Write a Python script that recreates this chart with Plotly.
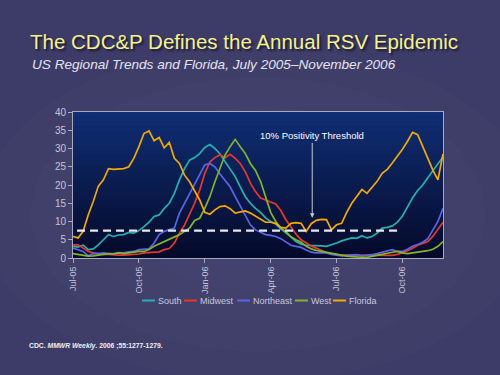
import plotly.graph_objects as go

# ---------------- data (weekly, Jul 2005 - Nov 2006) ----------------
weeks = list(range(74))
tick_weeks = [0, 13, 26, 39, 52, 65]
tick_labels = ["Jul-05", "Oct-05", "Jan-06", "Apr-06", "Jul-06", "Oct-06"]
y_ticks = [0, 5, 10, 15, 20, 25, 30, 35, 40]

south = [3.2, 3.0, 3.5, 2.3, 2.5, 3.6, 5.0, 6.4, 5.9, 6.3, 6.4, 7.0, 6.8, 7.5, 8.6, 9.8,
         11.4, 11.8, 13.6, 15.0, 17.7, 21.4, 24.5, 26.8, 27.5, 28.6, 30.3, 31.1, 30.0, 28.5,
         26.4, 24.5, 22.3, 19.5, 16.8, 15.0, 13.6, 12.5, 11.0, 10.0, 9.3, 8.0, 7.0, 5.8, 4.5,
         3.8, 3.5, 3.5, 3.4, 3.3, 3.2, 3.6, 4.1, 4.7, 5.2, 5.5, 5.4, 6.1, 5.5, 5.9, 6.8, 8.2,
         8.4, 8.8, 9.8, 11.5, 14.0, 16.5, 18.5, 20.0, 22.0, 24.0, 25.8, 27.7]
midwest = [3.6, 3.6, 2.7, 1.8, 1.4, 1.1, 1.0, 1.0, 0.8, 0.8, 0.8, 0.9, 0.9, 1.1, 1.4, 1.5,
           1.8, 1.7, 2.3, 2.6, 4.1, 6.8, 9.0, 11.8, 15.0, 18.6, 23.2, 26.3, 27.5, 28.3, 27.5,
           28.4, 27.3, 25.9, 23.6, 20.5, 18.2, 16.4, 15.9, 15.5, 14.8, 13.0, 10.5, 8.5, 6.5,
           5.0, 4.1, 3.3, 2.7, 2.0, 1.5, 1.1, 0.9, 0.8, 0.8, 0.8, 0.7, 0.7, 0.7, 0.6, 0.6, 0.6,
           0.7, 0.7, 1.0, 1.4, 2.0, 2.7, 3.5, 4.0, 4.5, 5.9, 7.7, 9.8]
northeast = [2.7, 2.3, 1.8, 0.6, 1.2, 1.2, 1.4, 1.2, 1.2, 1.5, 1.4, 1.7, 1.8, 2.3, 2.5, 2.5,
             4.1, 6.4, 7.3, 7.7, 8.2, 12.3, 15.0, 17.7, 20.0, 22.7, 25.5, 25.9, 25.0, 23.0,
             21.4, 19.5, 16.8, 14.1, 11.8, 9.1, 7.7, 7.0, 6.4, 6.2, 5.9, 5.3, 4.3, 3.5, 3.2,
             2.9, 2.2, 1.6, 1.4, 1.4, 1.4, 1.0, 0.8, 0.6, 0.7, 0.8, 0.9, 0.6, 0.7, 0.9, 1.2,
             1.6, 1.9, 2.3, 1.8, 1.8, 2.4, 3.2, 3.7, 4.3, 5.3, 7.5, 10.0, 13.6]
west = [1.2, 0.9, 0.6, 0.5, 0.6, 0.8, 0.9, 1.2, 1.1, 1.4, 1.2, 1.4, 1.8, 1.8, 1.8, 2.3, 3.2,
        3.8, 4.4, 5.0, 5.6, 6.4, 7.3, 8.2, 10.3, 10.9, 13.6, 16.8, 20.9, 24.5, 28.2, 30.5,
        32.5, 30.5, 28.6, 25.9, 24.0, 21.0, 17.0, 12.5, 10.0, 8.2, 7.2, 5.8, 5.0, 4.3, 3.2,
        2.5, 2.1, 1.8, 1.5, 1.2, 1.0, 0.7, 0.5, 0.4, 0.2, 0.2, 0.2, 0.4, 0.7, 1.0, 1.3, 1.6,
        1.8, 1.4, 1.2, 1.4, 1.6, 1.7, 2.0, 2.4, 3.2, 4.5]
florida = [5.9, 5.5, 7.3, 11.8, 15.5, 19.7, 21.4, 24.5, 24.3, 24.4, 24.5, 25.0, 27.3, 30.5,
           34.1, 34.8, 32.1, 33.0, 30.2, 31.7, 27.3, 25.9, 22.7, 20.9, 18.2, 15.9, 12.5, 12.0,
           13.2, 14.1, 14.3, 13.5, 12.3, 12.7, 12.9, 12.3, 11.5, 10.5, 9.8, 9.8, 9.5, 8.4, 8.2,
           9.5, 9.7, 9.5, 7.3, 9.4, 10.3, 10.6, 10.5, 7.7, 9.1, 9.5, 12.5, 15.0, 16.8, 18.8,
           17.7, 19.3, 21.0, 23.2, 24.3, 26.0, 27.8, 29.8, 32.0, 34.4, 33.8, 30.5, 27.3, 24.1,
           21.4, 28.5]

series_names = ["South", "Midwest", "Northeast", "West", "Florida"]
series_values = [south, midwest, northeast, west, florida]
series_colors = ["#22b2b0", "#e8382c", "#5a66e8", "#84b42c", "#f2aa00"]

threshold = 7.5
threshold_start, threshold_end = 0.8, 64
arrow_week, arrow_value = 47.2, 11.0
threshold_label = "10% Positivity Threshold"

# ---------------- figure ----------------
fig = go.Figure()
for name, vals, col in zip(series_names, series_values, series_colors):
    fig.add_trace(go.Scatter(x=weeks, y=vals, mode="lines", name=name,
                             line=dict(color=col, width=1.7), showlegend=False))

shapes = []
# soft radial glow on slide background
for i, op in enumerate([0.03, 0.03, 0.035, 0.035]):
    s = 1 - i * 0.18
    shapes.append(dict(type="circle", xref="paper", yref="paper", layer="below",
                       x0=0.5 - 0.75 * s, x1=0.5 + 0.75 * s, y0=0.3 - 1.15 * s, y1=0.3 + 1.15 * s,
                       fillcolor=f"rgba(120,118,170,{op})", line=dict(width=0)))
# plot area vertical gradient
n = 30
top = (16, 46, 116)
bot = (5, 10, 42)
for i in range(n):
    t = i / (n - 1)
    c = tuple(int(round(top[k] * (1 - t) + bot[k] * t)) for k in range(3))
    shapes.append(dict(type="rect", xref="x domain", yref="y domain", layer="below",
                       x0=0, x1=1, y0=1 - (i + 1) / n, y1=1 - i / n + 0.002,
                       fillcolor=f"rgb{c}", line=dict(width=0)))
# threshold dashed line
shapes.append(dict(type="line", xref="x", yref="y", x0=threshold_start, x1=threshold_end,
                   y0=threshold, y1=threshold, line=dict(color="#e8e8f0", width=2.2, dash="8px,5px")))

# custom compact legend
PL, PW, PB, PH = 73, 370, 258, 146
def px2x(px):
    return (px - PL) / PW
def py2y(py):
    return (PB - py) / PH

legend_px = [142, 184, 237, 295, 333]
legend_py = 300.5
annotations = []
for name, col, lx in zip(series_names, series_colors, legend_px):
    shapes.append(dict(type="line", xref="paper", yref="paper",
                       x0=px2x(lx), x1=px2x(lx + 13), y0=py2y(legend_py), y1=py2y(legend_py),
                       line=dict(color=col, width=2)))
    annotations.append(dict(text=name, xref="paper", yref="paper", x=px2x(lx + 14),
                            y=py2y(legend_py), xanchor="left", yanchor="middle", showarrow=False,
                            font=dict(family="Arial, Liberation Sans, sans-serif", size=9,
                                      color="#c8c8dc")))

# threshold annotation with arrow
annotations.append(dict(text=threshold_label, x=arrow_week, y=arrow_value, xref="x", yref="y",
                        showarrow=True, ax=0, ay=-82, arrowhead=2, arrowsize=0.9, arrowwidth=1,
                        arrowcolor="#c8c8d8",
                        font=dict(family="Arial, Liberation Sans, sans-serif", size=9.5,
                                  color="#ffffff")))
# titles
annotations.append(dict(text="The CDC&amp;P Defines the Annual RSV Epidemic", xref="paper",
                        yref="paper", x=px2x(28), y=py2y(41), xanchor="left", yanchor="middle",
                        showarrow=False,
                        font=dict(family="Arial, Liberation Sans, sans-serif", size=20.5,
                                  color="#f4f28a", shadow="2px 2px 2px #1a1838")))
annotations.append(dict(text="<i>US Regional Trends and Florida, July 2005–November 2006</i>",
                        xref="paper", yref="paper", x=px2x(30), y=py2y(64), xanchor="left",
                        yanchor="middle", showarrow=False,
                        font=dict(family="Arial, Liberation Sans, sans-serif", size=13.6,
                                  color="#e4e4f2")))
annotations.append(dict(text="<b>CDC. <i>MMWR Weekly</i>. 2006 ;55:1277-1279.</b>",
                        xref="paper", yref="paper", x=px2x(27), y=py2y(346), xanchor="left",
                        yanchor="middle", showarrow=False,
                        font=dict(family="Arial, Liberation Sans, sans-serif", size=6.8,
                                  color="#f0f0f8")))

axis_font = dict(family="Arial, Liberation Sans, sans-serif", color="#c4c4d8")
fig.update_layout(
    width=500, height=375,
    margin=dict(l=73, r=57, t=112, b=117),
    paper_bgcolor="#3d3c68",
    plot_bgcolor="#0a1a55",
    showlegend=False,
    shapes=shapes,
    annotations=annotations,
    xaxis=dict(range=[0, 73], tickmode="array", tickvals=tick_weeks, ticktext=tick_labels,
               tickangle=-90, ticks="outside", ticklen=4, tickcolor="#a8a8c0",
               showline=True, linecolor="#a8a8c0", linewidth=1, mirror=True,
               showgrid=False, zeroline=False, tickfont=dict(size=9, **axis_font)),
    yaxis=dict(range=[0, 40], tickmode="array", tickvals=y_ticks, ticks="outside", ticklen=4,
               tickcolor="#a8a8c0", showline=True, linecolor="#a8a8c0", linewidth=1, mirror=True,
               showgrid=False, zeroline=False, tickfont=dict(size=10, **axis_font)),
)

fig.write_html("out.html", config={"displayModeBar": False},
               post_script="document.body.style.margin='0';document.body.style.background='#3d3c68';")
